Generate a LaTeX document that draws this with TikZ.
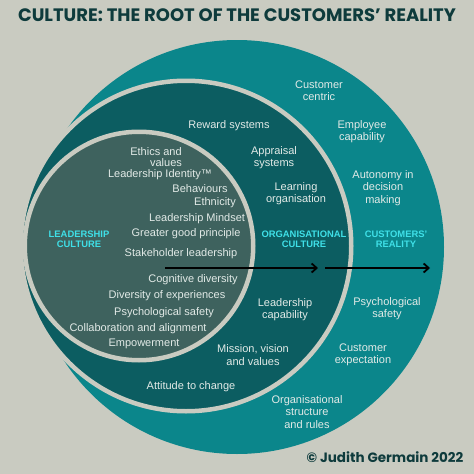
\documentclass[tikz,border=0pt]{standalone}
\usepackage{fontspec}
\setmainfont{Liberation Sans}
\newfontfamily\titlefont{Poppins}
\usetikzlibrary{arrows.meta}
\definecolor{bgcol}{HTML}{C9CBC1}
\definecolor{outercol}{HTML}{0B868B}
\definecolor{middlecol}{HTML}{0C5D61}
\definecolor{innercol}{HTML}{3E625E}
\definecolor{titlecol}{HTML}{0E3B3C}
\definecolor{txtcol}{HTML}{E2EAE7}
\definecolor{lblcol}{HTML}{3FE0E8}
\begin{document}
\begin{tikzpicture}[x=1pt,y=-1pt,
  txt/.style={text=txtcol, font=\fontsize{11}{12.3}\selectfont, align=center, inner sep=0pt},
  lbl/.style={text=lblcol, font=\fontsize{9.4}{10.3}\selectfont\bfseries, align=center, inner sep=0pt},
  ring/.style={draw=bgcol, line width=4.5pt},
  flow/.style={draw=black, line width=1.8pt, -{Straight Barb[length=5pt,width=9pt,line width=1.8pt]}}]
\fill[bgcol] (0,0) rectangle (474,474);
\useasboundingbox (0,0) rectangle (474,474);
% circles
\fill[outercol] (237,247) circle[radius=207];
\fill[middlecol] (186,246) circle[radius=165.25];
\draw[ring] (186,246) circle[radius=165.25];
\fill[innercol] (139,246) circle[radius=114.25];
\draw[ring] (139,246) circle[radius=114.25];
% title and credit
\node[font=\titlefont\bfseries\fontsize{18}{21}\selectfont, text=titlecol, inner sep=0pt] (title) at (237,15) {CULTURE: THE ROOT OF THE CUSTOMERS’ REALITY};
\node[font=\titlefont\bfseries\fontsize{13.5}{15}\selectfont, text=titlecol, inner sep=0pt] (credit) at (385,457) {© Judith Germain 2022};
% section labels
\node[lbl] (lc) at (79,239) {LEADERSHIP\\CULTURE};
\node[lbl] (oc) at (304,239) {ORGANISATIONAL\\CULTURE};
\node[lbl] (cr) at (396,239) {CUSTOMERS’\\REALITY};
% outer ring texts
\node[txt] (t1) at (319,90.5) {Customer\\centric};
\node[txt] (t2) at (362,132) {Employee\\capability};
\node[txt] (t3) at (383,188) {Autonomy in\\decision\\making};
\node[txt] (t4) at (387,309) {Psychological\\safety};
\node[txt] (t5) at (363,355) {Customer\\expectation};
\node[txt] (t6) at (307,412) {Organisational\\structure\\and rules};
% middle ring texts
\node[txt] (m1) at (229,126) {Reward systems};
\node[txt] (m2) at (274,158) {Appraisal\\systems};
\node[txt] (m3) at (296,194) {Learning\\organisation};
\node[txt] (m4) at (285,310) {Leadership\\capability};
\node[txt] (m5) at (253,355) {Mission, vision\\and values};
\node[txt] (m6) at (191,387) {Attitude to change};
% inner circle texts
\node[txt] (i1) at (156,151.5) {Ethics and};
\node[txt] (i2) at (166,162.5) {values};
\node[txt] (i3) at (160,175) {Leadership Identity™};
\node[txt] (i4) at (200,188.5) {Behaviours};
\node[txt] (i5) at (215,203) {Ethnicity};
\node[txt] (i6) at (197,219) {Leadership Mindset};
\node[txt] (i7) at (186,234) {Greater good principle};
\node[txt] (i8) at (181,254) {Stakeholder leadership};
\node[txt] (i9) at (193,280) {Cognitive diversity};
\node[txt] (i10) at (167,296) {Diversity of experiences};
\node[txt] (i11) at (164,313) {Psychological safety};
\node[txt] (i12) at (138,329) {Collaboration and alignment};
\node[txt] (i13) at (144,344) {Empowerment};
% arrows
\coordinate (a1s) at (165,268);
\coordinate (a1e) at (318,268);
\coordinate (a2s) at (325,268);
\coordinate (a2e) at (430,268);
\draw[flow] (a1s) -- (a1e);
\draw[flow] (a2s) -- (a2e);
\end{tikzpicture}
\end{document}
